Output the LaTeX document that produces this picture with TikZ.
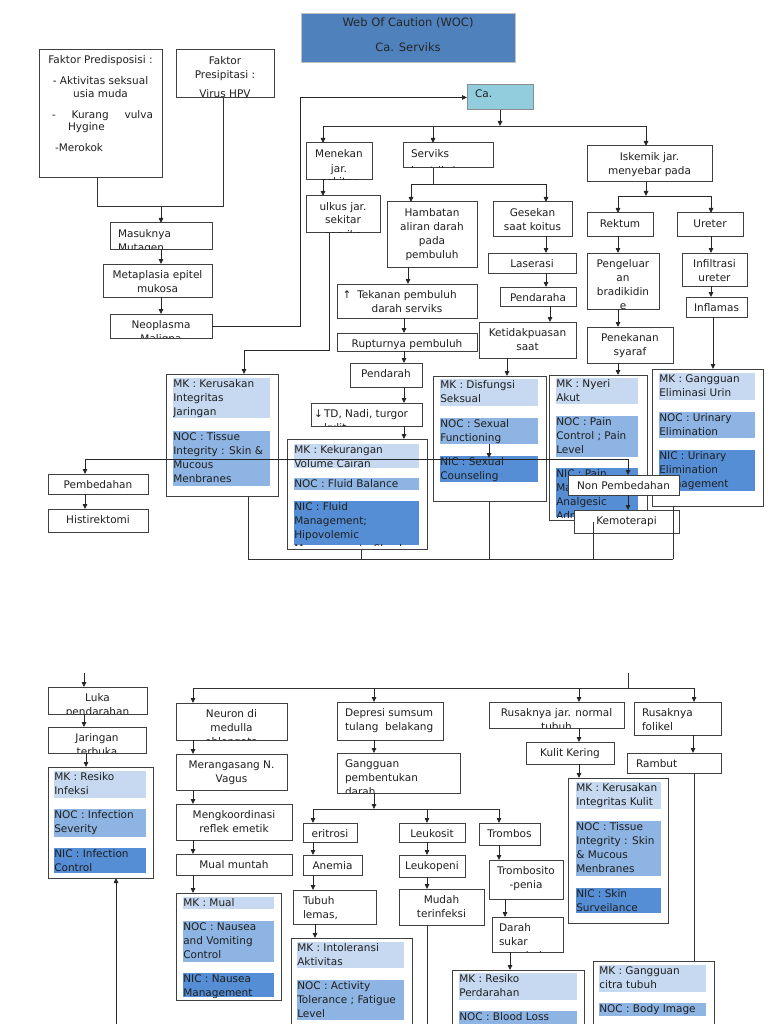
\documentclass[tikz,border=0pt]{standalone}
\usepackage{fontspec}
\setmainfont{DejaVu Sans}
\usetikzlibrary{arrows.meta}
\definecolor{mkc}{RGB}{198,217,241}
\definecolor{nocc}{RGB}{141,180,226}
\definecolor{nicc}{RGB}{85,142,213}
\definecolor{titc}{RGB}{79,129,189}
\definecolor{cac}{RGB}{146,205,222}
\tikzset{
  boxs/.style={draw=black!75, line width=1pt, fill=white, inner sep=0pt, outer sep=0pt},
  btxt/.style={inner sep=0pt, outer sep=0pt, draw=none, fill=none, text=black!88, font=\fontsize{10.5}{14}\selectfont},
  ntxt/.style={inner sep=0pt, outer sep=0pt, draw=none, fill=none, text=black!88, font=\fontsize{10.5}{14}\selectfont},
  ttxt/.style={inner sep=0pt, outer sep=0pt, draw=none, fill=none, text=black!85, font=\fontsize{11.5}{14}\selectfont},
  arr/.style={-{Triangle[length=5pt,width=4.5pt]}, line width=0.8pt, draw=black!85},
  ln/.style={line width=0.8pt, draw=black!80}
}
\newcommand\obox[5]{\pgfmathsetmacro\wbw{#4-#2}\pgfmathsetmacro\wbh{#5-#3}%
  \node[boxs, anchor=north west, minimum width=\wbw pt, minimum height=\wbh pt] (#1) at (#2,#3) {};}
\newcommand\wbox[6]{\obox{#1}{#2}{#3}{#4}{#5}%
  \begin{scope}\clip (#2+0.6,#3+0.6) rectangle (#4-0.6,#5-0.6);
  \node[btxt, anchor=north, align=center] (#1-t) at ({(#2+#4)/2},#3+7) {#6};
  \end{scope}}
\newcommand\wboxl[7]{\obox{#1}{#2}{#3}{#4}{#5}%
  \begin{scope}\clip (#2+0.6,#3+0.6) rectangle (#4-0.6,#5-0.6);
  \node[btxt, anchor=north west, align=left] (#1-t) at (#2+#6,#3+7) {#7};
  \end{scope}}
\newcommand\wband[7]{\pgfmathsetmacro\wbw{#5-#3}\pgfmathsetmacro\wbh{#6-#4}%
  \node[fill=#2, draw=none, inner sep=0pt, outer sep=0pt, anchor=north west, minimum width=\wbw pt, minimum height=\wbh pt] (#1) at (#3,#4) {};
  \begin{scope}\clip (#3,#4) rectangle (#5,#6);
  \node[ntxt, anchor=north west, align=left] (#1-t) at (#3+0.3,#4+1.8) {#7};
  \end{scope}}
\begin{document}
\begin{tikzpicture}[x=1pt,y=-1pt]
\useasboundingbox (0,0) rectangle (768,1024);
\clip (0,0) rectangle (768,1024);
\fill[white] (0,0) rectangle (768,1024);

% ---------- title
\node[draw=black!25, fill=titc, line width=1pt, inner sep=0pt, anchor=north west, minimum width=214pt, minimum height=49pt] (title) at (301,13) {};
\node[ttxt, anchor=north, align=center] (title-t) at (408,18) {Web Of Caution (WOC)\\[11pt]Ca. Serviks};

% ---------- top left
\obox{pred}{39}{50}{162}{178}
\node[btxt, anchor=north west, align=left, font=\fontsize{10.5}{12.5}\selectfont] (pred-t) at (46,56)
 {\makebox[109pt]{Faktor Predisposisi :}\\[8.5pt]
  \makebox[109pt]{- Aktivitas seksual}\\
  \makebox[109pt]{usia muda}\\[8.5pt]
  \hspace*{6pt}\makebox[101pt]{-\hfill Kurang\hfill vulva}\\
  \hspace*{22pt}Hygine\\[8.5pt]
  \hspace*{9pt}-Merokok};
\wbox{presip}{176}{50}{274}{98}{Faktor\\Presipitasi :\\[5pt]Virus HPV}
\wboxl{masuk}{110}{223}{212}{249}{8}{Masuknya\\Mutagen}
\wbox{meta}{103}{264}{212}{297}{Metaplasia epitel\\mukosa}
\wbox{neo}{110}{314}{212}{338}{Neoplasma\\Maligna}

% ---------- Ca. Serviks
\node[boxs, fill=cac, draw=black!45, anchor=north west, minimum width=66pt, minimum height=25pt] (ca) at (467,85) {};
\begin{scope}\clip (467.6,85.6) rectangle (532.4,109.4);
\node[btxt, anchor=north west, align=left] (ca-t) at (475,90) {Ca.\\[7pt]Serviks};
\end{scope}

% ---------- middle column
\wbox{menekan}{306}{143}{372}{180}{Menekan\\[1pt]jar.\\[-1pt]sekitar}
\wboxl{serv}{403}{143}{493}{168}{8}{Serviks\\[3pt]kontriksi}
\wbox{ulkus}{306}{196}{380}{233}{ulkus jar.\\[-1pt]sekitar\\[1pt]serviks}
\wbox{hamb}{387}{202}{477}{267}{Hambatan\\aliran darah\\pada\\pembuluh}
\wbox{gesek}{493}{202}{572}{236}{Gesekan\\saat koitus}
\wbox{laser}{488}{253}{576}{273}{Laserasi}
\wbox{pendaraha}{500}{287}{576}{306}{Pendaraha}
\wbox{ketidak}{479}{322}{576}{358}{Ketidakpuasan\\saat}
\wbox{tekanan}{337}{284}{477}{318}{\llap{↑\hspace{6pt}}Tekanan pembuluh\\darah serviks}
\wbox{rupt}{337}{333}{477}{351}{Rupturnya pembuluh}
\wbox{pendarah}{350}{363}{422}{387}{Pendarah}
\wboxl{td}{311}{403}{422}{426}{13}{\llap{↓\hspace{1pt}}TD, Nadi, turgor\\kulit}

% ---------- right column
\wbox{iskemik}{587}{146}{712}{182}{Iskemik jar.\\menyebar pada}
\wbox{rektum}{587}{213}{653}{236}{Rektum}
\wbox{ureter}{677}{213}{743}{236}{Ureter}
\wbox{pengel}{587}{253}{659}{309}{Pengeluar\\an\\bradikidin\\e}
\wbox{penek}{587}{327}{673}{363}{Penekanan\\syaraf}
\wbox{infil}{682}{253}{747}{286}{Infiltrasi\\ureter}
\wbox{inflam}{686}{297}{747}{317}{Inflamas}

% ---------- diagnosis boxes (top)
\obox{kerusakan}{166}{374}{278}{496}
\wband{ker-mk}{mkc}{173}{378}{270}{418}{MK : Kerusakan\\Integritas\\Jaringan}
\wband{ker-noc}{nocc}{173}{431}{270}{486}{NOC : Tissue\\Integrity : Skin \&\\Mucous\\Menbranes}

\obox{kek}{287}{439}{427}{549}
\wband{kek-mk}{mkc}{294}{444}{419}{468}{MK : Kekurangan\\Volume Cairan}
\wband{kek-noc}{nocc}{294}{478}{419}{490}{NOC : Fluid Balance}
\wband{kek-nic}{nicc}{294}{501}{419}{545}{NIC : Fluid\\Management;\\Hipovolemic\\Management ; Shock}

\obox{disf}{433}{376}{546}{501}
\wband{disf-mk}{mkc}{440}{379}{538}{406}{MK : Disfungsi\\Seksual}
\wband{disf-noc}{nocc}{440}{418}{538}{444}{NOC : Sexual\\Functioning}
\wband{disf-nic}{nicc}{440}{456}{538}{482}{NIC : Sexual\\Counseling}

\obox{nyeri}{549}{375}{647}{520}
\wband{nyeri-mk}{mkc}{556}{378}{638}{404}{MK : Nyeri\\Akut}
\wband{nyeri-noc}{nocc}{556}{416}{638}{457}{NOC : Pain\\Control ; Pain\\Level}
\wband{nyeri-nic}{nicc}{556}{468}{638}{517}{NIC : Pain\\Management ;\\Analgesic\\Administration}

\obox{elim}{652}{369}{763}{506}
\wband{elim-mk}{mkc}{659}{373}{755}{400}{MK : Gangguan\\Eliminasi Urin}
\wband{elim-noc}{nocc}{659}{412}{755}{438}{NOC : Urinary\\Elimination}
\wband{elim-nic}{nicc}{659}{450}{755}{491}{NIC : Urinary\\Elimination\\Management}

\wbox{pemb}{48}{474}{148}{494}{Pembedahan}
\wbox{histi}{48}{509}{148}{532}{Histirektomi}
\wbox{nonpemb}{568}{475}{679}{495}{Non Pembedahan}
\wbox{kemo}{574}{510}{679}{533}{Kemoterapi}

% ---------- lower half boxes
\wbox{luka}{48}{687}{147}{714}{Luka\\pendarahan}
\wbox{jaringan}{48}{727}{146}{753}{Jaringan\\terbuka}
\obox{infeksi}{48}{767}{153}{878}
\wband{inf-mk}{mkc}{54}{771}{146}{798}{MK : Resiko\\Infeksi}
\wband{inf-noc}{nocc}{54}{809}{146}{837}{NOC : Infection\\Severity}
\wband{inf-nic}{nicc}{54}{848}{146}{873}{NIC : Infection\\Control}

\wbox{neuron}{176}{703}{287}{740}{Neuron di\\medulla\\oblongata}
\wbox{meran}{176}{754}{287}{790}{Merangasang N.\\Vagus}
\wbox{mengk}{176}{804}{292}{840}{Mengkoordinasi\\reflek emetik}
\wbox{mual}{176}{854}{292}{875}{Mual muntah}
\obox{mkmual}{176}{893}{281}{1000}
\wband{mual-mk}{mkc}{183}{897}{274}{909}{MK : Mual}
\wband{mual-noc}{nocc}{183}{921}{274}{962}{NOC : Nausea\\and Vomiting\\Control}
\wband{mual-nic}{nicc}{183}{973}{274}{997}{NIC : Nausea\\Management}

\wboxl{depresi}{337}{702}{443}{740}{8}{Depresi sumsum\\tulang\ \ belakang}
\wboxl{gangg}{337}{753}{460}{793}{8}{Gangguan\\pembentukan\\darah}
\wbox{eritrosi}{303}{823}{357}{842}{eritrosi}
\wbox{leukosit}{399}{823}{465}{842}{Leukosit}
\wbox{trombos}{479}{823}{540}{845}{Trombos}
\wbox{anemia}{303}{855}{362}{875}{Anemia}
\wbox{leukopeni}{399}{855}{465}{877}{Leukopeni}
\wbox{tromsito}{489}{860}{563}{899}{Trombosito\\-penia}
\wboxl{tubuh}{293}{890}{376}{924}{10}{Tubuh\\lemas,}
\wbox{mudah}{399}{889}{484}{925}{Mudah\\terinfeksi}
\wboxl{darah}{492}{917}{563}{952}{7}{Darah\\sukar\\membeku}

\obox{intol}{291}{938}{412}{1040}
\wband{intol-mk}{mkc}{297}{942}{404}{968}{MK : Intoleransi\\Aktivitas}
\wband{intol-noc}{nocc}{297}{980}{404}{1020}{NOC : Activity\\Tolerance ; Fatigue\\Level}

\obox{perd}{452}{970}{584}{1040}
\wband{perd-mk}{mkc}{459}{973}{577}{1000}{MK : Resiko\\Perdarahan}
\wband{perd-noc}{nocc}{459}{1011}{577}{1040}{NOC : Blood Loss\\Severity}

\wbox{rusakjar}{489}{702}{624}{728}{Rusaknya jar. normal\\tubuh}
\wbox{kulit}{526}{742}{614}{764}{Kulit Kering}
\obox{kulitmk}{568}{778}{668}{923}
\wband{kul-mk}{mkc}{576}{782}{661}{809}{MK : Kerusakan\\Integritas Kulit}
\wband{kul-noc}{nocc}{576}{821}{661}{876}{NOC : Tissue\\Integrity : Skin\\\& Mucous\\Menbranes}
\wband{kul-nic}{nicc}{576}{888}{661}{913}{NIC : Skin\\Surveilance}

\wboxl{folikel}{634}{702}{721}{735}{8}{Rusaknya\\folikel}
\wboxl{rambut}{627}{753}{721}{773}{9}{Rambut}
\obox{citra}{593}{961}{714}{1040}
\wband{citra-mk}{mkc}{599}{965}{706}{992}{MK : Gangguan\\citra tubuh}
\wband{citra-noc}{nocc}{599}{1003}{706}{1016}{NOC : Body Image}

% ================= connectors (top)
\coordinate (fj) at (161,206);
\draw[ln] (pred.south -| 97,0) -- (fj -| 97,0) -- (fj -| 223,0) -- (presip.south -| 223,0);
\draw[arr] (fj) -- (masuk.north -| fj);
\draw[arr] (masuk.south -| fj) -- (meta.north -| fj);
\draw[arr] (meta.south -| fj) -- (neo.north -| fj);
\coordinate (loopc) at (300,97.5);
\draw[arr] (neo.east) -| (loopc) -- (ca.west);

\coordinate (cj) at (500,126);
\draw[arr] (ca.south -| cj) -- (cj);
\draw[ln] (cj -| 323,0) -- (cj -| 646,0);
\draw[arr] (cj -| 323,0) -- (menekan.north -| 323,0);
\draw[arr] (cj -| 433,0) -- (serv.north -| 433,0);
\draw[arr] (cj -| 646,0) -- (iskemik.north -| 646,0);

\draw[arr] (menekan.south -| 323,0) -- (ulkus.north -| 323,0);
\coordinate (uj) at (329,350);
\draw[arr] (ulkus.south -| uj) -- (uj) -| (kerusakan.north -| 244,0);

\coordinate (sj) at (433,184);
\draw[ln] (serv.south -| sj) -- (sj);
\draw[arr] (sj) -| (hamb.north -| 411,0);
\draw[arr] (sj) -| (gesek.north -| 546,0);
\draw[arr] (gesek.south -| 546,0) -- (laser.north -| 546,0);
\draw[arr] (laser.south -| 546,0) -- (pendaraha.north -| 546,0);
\draw[arr] (pendaraha.south -| 550,0) -- (ketidak.north -| 550,0);
\draw[arr] (ketidak.south -| 507,0) -- (disf.north -| 507,0);

\draw[arr] (hamb.south -| 408,0) -- (tekanan.north -| 408,0);
\draw[arr] (tekanan.south -| 404,0) -- (rupt.north -| 404,0);
\draw[arr] (rupt.south -| 404,0) -- (pendarah.north -| 404,0);
\draw[arr] (pendarah.south -| 404,0) -- (td.north -| 404,0);
\draw[arr] (td.south -| 404,0) -- (kek.north -| 404,0);

\coordinate (ij) at (646,196);
\draw[arr] (iskemik.south -| ij) -- (ij);
\draw[arr] (ij) -| (rektum.north -| 618,0);
\draw[arr] (ij) -| (ureter.north -| 711,0);
\draw[arr] (rektum.south -| 618,0) -- (pengel.north -| 618,0);
\draw[arr] (pengel.south -| 618,0) -- (penek.north -| 618,0);
\draw[arr] (penek.south -| 618,0) -- (nyeri.north -| 618,0);
\draw[arr] (ureter.south -| 711,0) -- (infil.north -| 711,0);
\draw[arr] (infil.south -| 711,0) -- (inflam.north -| 711,0);
\draw[arr] (inflam.south -| 713,0) -- (elim.north -| 713,0);

% treatment branch
\coordinate (trt) at (628,459);
\draw[arr] (trt) -| (pemb.north -| 85,0);
\draw[arr] (trt) -- (nonpemb.north -| trt);
\draw[arr] (nonpemb.south -| trt) -- (kemo.north -| trt);
\draw[arr] (pemb.south -| 85,0) -- (histi.north -| 85,0);
\coordinate (trtm) at (489,458);
\draw[arr] (disf-noc.south -| trtm) -- (trtm);

% collector
\coordinate (coll) at (248,559);
\draw[ln] (kerusakan.south -| coll) -- (coll) -- (coll -| 673,0);
\draw[ln] (kek.south -| 361,0) -- (coll -| 361,0);
\draw[ln] (disf.south -| 489,0) -- (coll -| 489,0);
\draw[ln] (kemo.center -| 593,0) -- (coll -| 593,0);
\draw[ln] (elim.south -| 673,0) -- (coll -| 673,0);

% ================= connectors (bottom)
\coordinate (lowL) at (84,673);
\draw[arr] (lowL) -- (luka.north -| lowL);
\draw[arr] (luka.south -| lowL) -- (jaringan.north -| lowL);
\draw[arr] (jaringan.south -| 86,0) -- (infeksi.north -| 86,0);
\coordinate (infB) at (116,1030);
\draw[arr] (infB) -- (infeksi.south -| infB);

\coordinate (lowR) at (628,673);
\coordinate (lowJ) at (628,688);
\draw[ln] (lowR) -- (lowJ);
\draw[ln] (lowJ -| 193,0) -- (lowJ -| 694,0);
\draw[arr] (lowJ -| 193,0) -- (neuron.north -| 193,0);
\draw[arr] (lowJ -| 374,0) -- (depresi.north -| 374,0);
\draw[arr] (lowJ -| 579,0) -- (rusakjar.north -| 579,0);
\draw[arr] (lowJ -| 694,0) -- (folikel.north -| 694,0);

\draw[arr] (neuron.south -| 193,0) -- (meran.north -| 193,0);
\draw[arr] (meran.south -| 193,0) -- (mengk.north -| 193,0);
\draw[arr] (mengk.south -| 193,0) -- (mual.north -| 193,0);
\draw[arr] (mual.south -| 193,0) -- (mkmual.north -| 193,0);

\draw[arr] (depresi.south -| 374,0) -- (gangg.north -| 374,0);
\coordinate (gj) at (374,809);
\draw[arr] (gangg.south -| gj) -- (gj);
\draw[ln] (gj -| 313,0) -- (gj -| 499,0);
\draw[arr] (gj -| 313,0) -- (eritrosi.north -| 313,0);
\draw[arr] (gj -| 427,0) -- (leukosit.north -| 427,0);
\draw[arr] (gj -| 499,0) -- (trombos.north -| 499,0);
\draw[arr] (eritrosi.south -| 313,0) -- (anemia.north -| 313,0);
\draw[arr] (anemia.south -| 313,0) -- (tubuh.north -| 313,0);
\draw[arr] (tubuh.south -| 315,0) -- (intol.north -| 315,0);
\draw[arr] (leukosit.south -| 427,0) -- (leukopeni.north -| 427,0);
\draw[arr] (leukopeni.south -| 427,0) -- (mudah.north -| 427,0);
\coordinate (mudB) at (427,1030);
\draw[ln] (mudah.south -| mudB) -- (mudB);
\draw[arr] (trombos.south -| 499,0) -- (tromsito.north -| 499,0);
\draw[arr] (tromsito.south -| 505,0) -- (darah.north -| 505,0);
\draw[arr] (darah.south -| 510,0) -- (perd.north -| 510,0);
\draw[arr] (rusakjar.south -| 579,0) -- (kulit.north -| 579,0);
\draw[arr] (kulit.south -| 579,0) -- (kulitmk.north -| 579,0);
\draw[arr] (folikel.south -| 693,0) -- (rambut.north -| 693,0);
\draw[ln] (rambut.south -| 694,0) -- (citra.north -| 694,0);
\end{tikzpicture}
\end{document}
